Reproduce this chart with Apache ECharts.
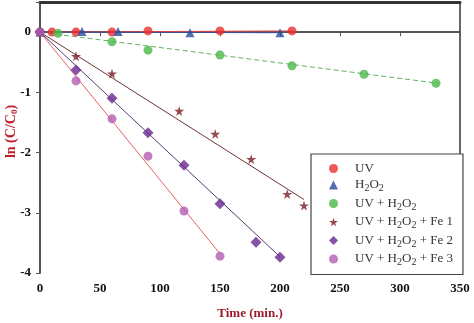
<!DOCTYPE html>
<html><head><meta charset="utf-8">
<script src="https://cdn.jsdelivr.net/npm/echarts@6/dist/echarts.min.js"></script>
<style>html,body{margin:0;padding:0;background:#fff}#c{width:474px;height:323px}</style>
</head><body><div id="c"></div>
<script>
// ---- data ----
const seriesNames = ['UV', 'H2O2', 'UV + H2O2', 'UV + H2O2 + Fe 1', 'UV + H2O2 + Fe 2', 'UV + H2O2 + Fe 3'];
const uvPts     = [[0,0],[10,0],[30,0],[60,0],[90,0.02],[150,0.02],[210,0.02]];
const h2o2Pts   = [[0,0],[35,0.01],[65,0.01],[125,-0.01],[200,-0.01]];
const uvH2o2Pts = [[0,0],[15,-0.02],[60,-0.16],[90,-0.3],[150,-0.38],[210,-0.56],[270,-0.7],[330,-0.85]];
const fe1Pts    = [[0,0],[30,-0.4],[60,-0.69],[116,-1.31],[146,-1.69],[176,-2.11],[206,-2.69],[220,-2.88]];
const fe2Pts    = [[0,0],[30,-0.63],[60,-1.1],[90,-1.67],[120,-2.21],[150,-2.85],[180,-3.49],[200,-3.74]];
const fe3Pts    = [[0,0],[30,-0.81],[60,-1.44],[90,-2.06],[120,-2.97],[150,-3.72]];
// fitted trend lines (end points)
const uvFit     = [[0,0],[210,0.02]];
const h2o2Fit   = [[0,0],[200,-0.01]];
const uvH2o2Fit = [[0,0],[332,-0.85]];
const fe1Fit    = [[0,0],[220,-2.78]];
const fe2Fit    = [[0,0],[200,-3.73]];
const fe3Fit    = [[0,0],[150,-3.68]];
const xTicks = [0,50,100,150,200,250,300,350];
const yTicks = [0,-1,-2,-3,-4];

const star = 'path://M50,0 L61,35 L98,35 L68,57 L79,91 L50,70 L21,91 L32,57 L2,35 L39,35 Z';
const serif = 'Liberation Serif';
const sub = (s) => s.replace(/H2O2/g, 'H{s|2}O{s|2}');

const pts = [uvPts, h2o2Pts, uvH2o2Pts, fe1Pts, fe2Pts, fe3Pts];
const fits = [uvFit, h2o2Fit, uvH2o2Fit, fe1Fit, fe2Fit, fe3Fit];
const mColors = ['#e8302e', '#2b4a9c', '#4cb84a', '#7a1c24', '#6a2790', '#b45cb4'];
const lColors = ['#e04545', '#3a4f9a', '#5cb45a', '#6b3434', '#4e3d70', '#e66060'];
const symbols = ['circle', 'triangle', 'circle', star, 'diamond', 'circle'];
const sizes = [9, 9, 9, 10, 11, 9];

const series = [];
fits.forEach((f, i) => {
  series.push({
    type: 'line', name: seriesNames[i] + ' fit', data: f, symbol: 'none', silent: true,
    lineStyle: { color: lColors[i], width: 1, type: i === 2 ? [5, 3] : 'solid' }, z: 2
  });
});
pts.forEach((p, i) => {
  series.push({
    type: 'scatter', name: seriesNames[i], data: p, symbol: symbols[i], symbolSize: sizes[i],
    itemStyle: { color: mColors[i] }, z: 3
  });
});

const chart = echarts.init(document.getElementById('c'));
chart.setOption({
  animation: false,
  grid: { left: 40, right: 14, top: 2, bottom: 50, containLabel: false, outerBoundsMode: 'none' },
  xAxis: [{
    type: 'value', min: 0, max: 350, interval: 50,
    axisLine: { lineStyle: { color: '#555', width: 2 } },
    axisTick: { show: true, inside: false, length: 4, lineStyle: { color: '#555' } },
    splitLine: { show: false },
    axisLabel: { color: '#111', fontFamily: serif, fontWeight: 'bold', fontSize: 13, margin: 9,
      formatter: v => xTicks.includes(v) ? String(v) : '' },
    name: 'Time (min.)', nameLocation: 'middle', nameGap: 34, nameMoveOverlap: false,
    nameTextStyle: { color: '#9c1b2c', fontFamily: serif, fontWeight: 'bold', fontSize: 13 }
  }, {
    type: 'value', position: 'top', min: 0, max: 350, interval: 50,
    axisLine: { show: true, onZero: false, lineStyle: { color: '#333', width: 3 } },
    axisTick: { show: false }, axisLabel: { show: false }, splitLine: { show: false }
  }],
  yAxis: [{
    type: 'value', min: -4, max: 0.5, interval: 1,
    axisLine: { onZero: false, lineStyle: { color: '#555', width: 2 } },
    axisTick: { show: true, inside: false, length: 4, lineStyle: { color: '#555' } },
    splitLine: { show: false },
    axisLabel: { color: '#111', fontFamily: serif, fontWeight: 'bold', fontSize: 13, margin: 9,
      formatter: v => yTicks.includes(v) ? String(v) : '' },
    name: 'ln (C/C{s|0})', nameLocation: 'middle', nameGap: 21, nameRotate: 90, nameMoveOverlap: false,
    nameTextStyle: { color: '#c0202c', fontFamily: serif, fontWeight: 'bold', fontSize: 14,
      padding: [0, 0, 0, 12],
      rich: { s: { fontSize: 9, fontFamily: serif, fontWeight: 'bold', color: '#c0202c', padding: [6, 0, 0, 0] } } }
  }, {
    type: 'value', position: 'right', min: -4, max: 0.5, interval: 1,
    axisLine: { show: true, onZero: false, lineStyle: { color: '#333', width: 1.5 } },
    axisTick: { show: false }, axisLabel: { show: false }, splitLine: { show: false }
  }],
  legend: {
    data: seriesNames.map(n => ({ name: n })),
    orient: 'vertical', left: 311, top: 154,
    padding: [8, 10, 7, 18], itemGap: 3.5, itemWidth: 9, itemHeight: 9,
    borderColor: '#444', borderWidth: 1.2, backgroundColor: '#fff',
    formatter: n => sub(n),
    textStyle: { fontFamily: serif, fontSize: 13, color: '#333', padding: [0, 0, 0, 12],
      rich: { s: { fontFamily: serif, fontSize: 10, color: '#333', padding: [7, 0, 0, 0] } } }
  },
  series: series
});
</script></body></html>
